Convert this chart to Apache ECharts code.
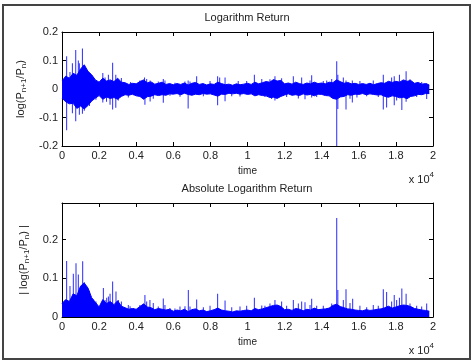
<!DOCTYPE html>
<html><head><meta charset="utf-8">
<script src="https://cdn.jsdelivr.net/npm/echarts@6/dist/echarts.min.js"></script>
<style>html,body{margin:0;padding:0;background:#fff}#c{width:474px;height:362px}</style>
</head><body><div id="c"></div>
<script>
// Band envelope (dense noise) read every 200 time steps, t = 0 .. 19800
const bandStep = 200;
const topUp = [
 0.028,0.045,0.038,0.055,0.048,0.07,0.085,0.062,0.05,0.032,
 0.024,0.038,0.028,0.032,0.026,0.038,0.024,0.022,0.016,0.02,
 0.018,0.026,0.032,0.022,0.025,0.017,0.02,0.024,0.016,0.019,
 0.015,0.019,0.016,0.021,0.014,0.02,0.023,0.016,0.019,0.014,
 0.018,0.016,0.024,0.019,0.015,0.017,0.013,0.018,0.015,0.017,
 0.02,0.016,0.024,0.018,0.022,0.026,0.024,0.033,0.028,0.03,
 0.018,0.021,0.017,0.024,0.019,0.016,0.021,0.018,0.024,0.019,
 0.021,0.018,0.024,0.022,0.032,0.026,0.02,0.023,0.018,0.02,
 0.016,0.019,0.016,0.02,0.015,0.019,0.022,0.02,0.027,0.023,
 0.027,0.024,0.032,0.027,0.03,0.02,0.023,0.017,0.019,0.014];
const topLo = [
 -0.032,-0.045,-0.052,-0.05,-0.068,-0.06,-0.07,-0.058,-0.042,-0.032,
 -0.023,-0.036,-0.028,-0.033,-0.03,-0.036,-0.026,-0.02,-0.022,-0.018,
 -0.024,-0.026,-0.036,-0.027,-0.025,-0.02,-0.023,-0.02,-0.022,-0.017,
 -0.018,-0.016,-0.02,-0.015,-0.019,-0.022,-0.018,-0.02,-0.016,-0.018,
 -0.017,-0.021,-0.025,-0.018,-0.019,-0.015,-0.017,-0.015,-0.018,-0.016,
 -0.019,-0.017,-0.024,-0.02,-0.023,-0.024,-0.03,-0.029,-0.033,-0.026,
 -0.021,-0.017,-0.022,-0.02,-0.023,-0.017,-0.021,-0.019,-0.024,-0.018,
 -0.019,-0.023,-0.024,-0.033,-0.036,-0.028,-0.026,-0.02,-0.022,-0.018,
 -0.019,-0.016,-0.02,-0.017,-0.019,-0.021,-0.02,-0.026,-0.029,-0.024,
 -0.026,-0.031,-0.029,-0.034,-0.026,-0.024,-0.019,-0.02,-0.016,-0.016];
const absUp = [
 0.035,0.045,0.04,0.06,0.055,0.08,0.088,0.075,0.05,0.038,
 0.026,0.045,0.035,0.04,0.032,0.042,0.028,0.024,0.02,0.022,
 0.02,0.027,0.034,0.026,0.024,0.019,0.022,0.02,0.018,0.02,
 0.015,0.018,0.016,0.02,0.014,0.019,0.021,0.016,0.018,0.014,
 0.016,0.019,0.023,0.018,0.016,0.015,0.013,0.016,0.015,0.017,
 0.018,0.016,0.022,0.019,0.021,0.024,0.027,0.03,0.031,0.027,
 0.019,0.02,0.017,0.022,0.02,0.016,0.02,0.018,0.023,0.019,
 0.02,0.021,0.023,0.03,0.033,0.027,0.024,0.021,0.02,0.018,
 0.017,0.016,0.019,0.017,0.018,0.02,0.021,0.024,0.028,0.023,
 0.026,0.029,0.031,0.03,0.027,0.022,0.02,0.018,0.017,0.015];
// Isolated spikes: [time, log return]
const topSpikes = [
 [250,0.115],[250,-0.145],[430,0.06],[430,-0.05],[560,0.09],[560,-0.085],
 [740,0.137],[740,-0.113],[880,0.10],[935,0.09],[935,-0.09],[1100,0.142],[1100,-0.087],
 [1200,-0.076],[1480,0.05],[1480,-0.06],[1690,0.04],[1830,-0.038],[2200,0.056],[2200,-0.047],
 [2320,0.04],[2400,-0.045],[2500,0.05],[2590,-0.055],
 [2730,0.092],[2730,-0.072],[2900,0.05],[2900,-0.066],[3035,-0.04],[3200,0.039],[3575,-0.03],
 [3700,0.025],[3845,-0.022],[4200,0.03],[4450,0.04],[4470,-0.055],[4565,0.035],
 [4750,0.03],[4750,-0.044],[4920,-0.034],[5190,0.026],[5460,0.035],[5460,-0.048],[5550,0.03],
 [5820,-0.024],[6090,0.022],[6360,-0.027],[6630,0.026],
 [6800,0.03],[6800,-0.068],[6900,0.026],[7260,0.045],[7620,-0.025],[7980,0.028],
 [8390,0.045],[8390,-0.057],[8500,0.04],[8790,0.04],[8790,-0.043],[9150,-0.025],
 [9500,0.028],[9595,-0.026],[9955,0.028],[10370,0.05],[10770,0.035],[10940,-0.028],
 [11210,0.034],[11300,-0.035],[11480,0.045],[11480,-0.04],[11840,0.038],[12110,-0.028],
 [12470,0.045],[12740,-0.033],[12920,0.04],[13100,-0.036],[13370,0.03],[13460,0.048],[13460,-0.03],
 [13730,-0.028],[14085,0.028],[14270,0.03],[14540,0.035],[14810,0.097],[14810,-0.256],
 [14870,0.05],[14870,-0.07],[15165,0.04],[15310,0.03],[15310,-0.072],[15525,-0.034],
 [15650,0.03],[15650,-0.047],[15900,-0.03],[16060,0.028],[16425,-0.025],[16780,0.03],
 [17050,-0.028],[17320,0.05],[17320,-0.072],[17500,-0.065],[17770,0.04],[17910,0.045],
 [17910,-0.057],[18040,-0.04],[18190,0.05],[18320,-0.074],[18550,0.062],[18550,-0.045],
 [18760,0.034],[19120,-0.028],[19390,0.025],[19660,0.02],[19660,-0.035]];
const absSpikes = [
 [250,0.145],[430,0.08],[610,0.112],[755,0.139],[880,0.11],[1115,0.144],[1200,0.09],
 [1475,0.068],[1690,0.045],[1830,0.04],[2230,0.075],[2320,0.044],[2410,0.05],[2500,0.053],
 [2590,0.06],[2730,0.092],[2910,0.066],[3035,0.044],[3200,0.04],[3575,0.031],[3670,0.028],
 [3845,0.023],[4200,0.031],[4470,0.057],[4565,0.04],[4740,0.044],[4920,0.036],[5190,0.027],
 [5460,0.048],[5550,0.031],[5820,0.023],[6090,0.022],[6360,0.027],[6630,0.028],
 [6810,0.07],[6900,0.027],[7260,0.045],[7620,0.025],[7980,0.029],[8390,0.06],[8790,0.043],
 [9150,0.025],[9595,0.027],[9955,0.029],[10370,0.05],[10770,0.03],[10940,0.029],[11210,0.035],
 [11480,0.044],[11840,0.04],[12110,0.029],[12470,0.044],[12740,0.035],[12920,0.04],
 [13100,0.038],[13370,0.031],[13460,0.047],[13730,0.029],[14085,0.029],
 [14540,0.035],[14810,0.256],[14870,0.07],[15165,0.044],[15310,0.072],[15525,0.036],
 [15670,0.047],[16060,0.029],[16425,0.025],[16780,0.031],[17050,0.029],[17320,0.072],
 [17500,0.065],[17770,0.04],[17910,0.057],[18040,0.044],[18190,0.05],[18320,0.074],
 [18550,0.06],[18760,0.035],[19120,0.029],[19390,0.027],[19660,0.035]];
const xTickLabels = ['0','0.2','0.4','0.6','0.8','1','1.2','1.4','1.6','1.8','2'];

const BLUE = '#0000ff';
const FONT = 'Liberation Sans';
const toPts = arr => arr.map((v,i)=>[i*bandStep, v]);

const chart = echarts.init(document.getElementById('c'), null, {renderer:'canvas'});
const lineStyle = {color:'#000', width:1};
function xAxisPair(gi, nameTxt){
  const base = {type:'value', gridIndex:gi, min:0, max:20000, interval:2000,
    axisLine:{show:true, onZero:false, lineStyle}, splitLine:{show:false},
    axisTick:{show:true, inside:true, length:4, lineStyle}};
  return [
    Object.assign({}, base, {position:'bottom',
      axisLabel:{show:true, margin:4, fontSize:11, color:'#222', fontFamily:FONT,
        formatter:(v)=>xTickLabels[Math.round(v/2000)]},
      name:nameTxt, nameLocation:'middle', nameGap:20,
      nameTextStyle:{fontSize:10, color:'#222', fontFamily:FONT}}),
    Object.assign({}, base, {position:'top', axisLabel:{show:false}})
  ];
}
function yAxisPair(gi, min, max, interval, nameRich){
  const base = {type:'value', gridIndex:gi, min, max, interval,
    axisLine:{show:true, onZero:false, lineStyle}, splitLine:{show:false},
    axisTick:{show:true, inside:true, length:4, lineStyle}};
  return [
    Object.assign({}, base, {position:'left',
      axisLabel:{show:true, margin:4, fontSize:11, color:'#222', fontFamily:FONT,
        showMaxLabel: max===0.2, formatter:(v)=>String(+v.toFixed(2))},
      name:nameRich, nameLocation:'middle', nameGap:31, nameRotate:90,
      nameTextStyle:{color:'#222', fontFamily:FONT,
        rich:{n:{fontSize:11, lineHeight:14, fontFamily:FONT, color:'#222'},
              s:{fontSize:8, lineHeight:8, padding:[6,0,0,0], fontFamily:FONT, color:'#222'}}}}),
    Object.assign({}, base, {position:'right', axisLabel:{show:false}})
  ];
}
const xs = xAxisPair(0,'time').concat(xAxisPair(1,'time'));
const ys = yAxisPair(0,-0.2,0.2,0.1,'{n|log(P}{s|n+1}{n|/P}{s|n}{n|)}')
  .concat(yAxisPair(1,0,0.295,0.1,'{n|| log(P}{s|n+1}{n|/P}{s|n}{n|) |}'));

function band(data, xi, yi){
  return {type:'line', xAxisIndex:xi, yAxisIndex:yi, data, symbol:'none', silent:true,
    lineStyle:{color:BLUE, width:1}, areaStyle:{color:BLUE, opacity:1}, animation:false};
}
function spikes(data, xi, yi){
  return {type:'bar', xAxisIndex:xi, yAxisIndex:yi, data, barWidth:1, clip:true,
    itemStyle:{color:'#2a2aff'}, silent:true, animation:false};
}

chart.setOption({
  animation:false,
  grid:[{left:62, top:32, width:371, height:114},{left:62, top:203, width:371, height:114}],
  xAxis: xs, yAxis: ys,
  series:[
    band(toPts(topUp),0,0), band(toPts(topLo),0,0), spikes(topSpikes,0,0),
    band(toPts(absUp),2,2), spikes(absSpikes,2,2)
  ],
  graphic:[
    {type:'rect', shape:{x:3,y:5,width:467,height:354}, style:{fill:'none', stroke:'#444', lineWidth:2}, silent:true},
    {type:'text', x:247, y:18, style:{text:'Logarithm Return', fontSize:11, fontFamily:FONT, fill:'#222', textAlign:'center', textVerticalAlign:'middle'}},
    {type:'text', x:247, y:189, style:{text:'Absolute Logarithm Return', fontSize:11, fontFamily:FONT, fill:'#222', textAlign:'center', textVerticalAlign:'middle'}},
    {type:'text', x:434, y:178, style:{text:'{a|x 10}{b|4}', textAlign:'right', textVerticalAlign:'middle',
      rich:{a:{fontSize:11, fontFamily:FONT, fill:'#222', lineHeight:14, padding:[4,0,0,0]}, b:{fontSize:8, fontFamily:FONT, fill:'#222', lineHeight:8, padding:[0,0,6,0]}}}},
    {type:'text', x:434, y:349, style:{text:'{a|x 10}{b|4}', textAlign:'right', textVerticalAlign:'middle',
      rich:{a:{fontSize:11, fontFamily:FONT, fill:'#222', lineHeight:14, padding:[4,0,0,0]}, b:{fontSize:8, fontFamily:FONT, fill:'#222', lineHeight:8, padding:[0,0,6,0]}}}}
  ]
});
</script></body></html>
